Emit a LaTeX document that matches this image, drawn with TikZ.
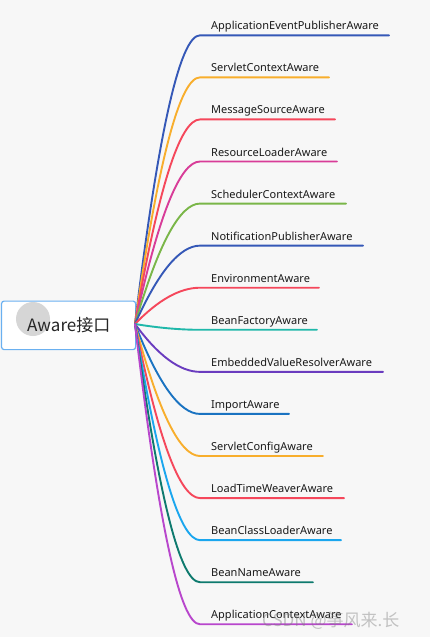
\documentclass[tikz,border=0pt]{standalone}
\usepackage{fontspec}
\setmainfont{Noto Sans}
\newfontfamily\cjk{Noto Sans CJK SC}
\usetikzlibrary{calc}
\definecolor{bgcol}{HTML}{F7F7F7}
\definecolor{rootborder}{HTML}{6AB0F0}
\definecolor{circcol}{HTML}{D6D6D6}
\definecolor{cBlue}{HTML}{3558B7}
\definecolor{cOrange}{HTML}{F8AE2C}
\definecolor{cRed}{HTML}{F5475B}
\definecolor{cMagenta}{HTML}{D83C98}
\definecolor{cGreen}{HTML}{7AB648}
\definecolor{cTeal}{HTML}{1FB8AA}
\definecolor{cPurple}{HTML}{6A3CBF}
\definecolor{cMidBlue}{HTML}{1A73C1}
\definecolor{cSky}{HTML}{1AA6EE}
\definecolor{cDarkTeal}{HTML}{0E7A6E}
\definecolor{cViolet}{HTML}{B846CC}
\tikzset{
  rootbox/.style={draw=rootborder, line width=1.2pt, fill=white, rounded corners=2.5pt,
    minimum width=134pt, minimum height=48.5pt, inner sep=0pt, anchor=north west},
  rootlabel/.style={font=\cjk\fontsize{17}{20}\selectfont, text=black!85, anchor=base west, inner sep=0pt},
  leaflabel/.style={font=\fontsize{11}{13}\selectfont, text=black!90, anchor=base west, inner sep=0pt},
  branch/.style={line width=1.9pt, line cap=round},
  wmark/.style={font=\cjk\fontsize{17}{20}\selectfont, text=gray, opacity=0.45, anchor=base west, inner sep=0pt}
}
\begin{document}
\begin{tikzpicture}[x=1pt,y=-1pt]
\useasboundingbox (0,0) rectangle (430,637);
\fill[bgcol] (0,0) rectangle (430,637);
\node[rootbox] (root) at (1,300.5) {};
\fill[circcol] (33,319) circle (17);
\node[rootlabel] (rootlab) at (27,331.7) {Aware接口};
\coordinate (o) at (135,324);
\foreach \i/\txt/\ex/\col in {
  0/ApplicationEventPublisherAware/389/cBlue,
  1/ServletContextAware/329/cOrange,
  2/MessageSourceAware/335/cRed,
  3/ResourceLoaderAware/337/cMagenta,
  4/SchedulerContextAware/346/cGreen,
  5/NotificationPublisherAware/363/cBlue,
  6/EnvironmentAware/319/cRed,
  7/BeanFactoryAware/317/cTeal,
  8/EmbeddedValueResolverAware/383/cPurple,
  9/ImportAware/289/cMidBlue,
  10/ServletConfigAware/323/cOrange,
  11/LoadTimeWeaverAware/344/cRed,
  12/BeanClassLoaderAware/341/cSky,
  13/BeanNameAware/313/cDarkTeal,
  14/ApplicationContextAware/352/cViolet}{
  \pgfmathsetmacro\yy{35.3+42.07*\i}
  \coordinate (c\i) at (170,\yy);
  \coordinate (s\i) at (200,\yy);
  \coordinate (e\i) at (\ex,\yy);
  \node[leaflabel] (l\i) at (211,\yy-5.5) {\txt};
  \draw[branch, draw=\col] (o) .. controls ($(o)!2/3!(c\i)$) and ($(s\i)!2/3!(c\i)$) .. (s\i) -- (e\i);
}
\node[wmark] (wm) at (262,626) {CSDN @筝风来.长};
\end{tikzpicture}
\end{document}
